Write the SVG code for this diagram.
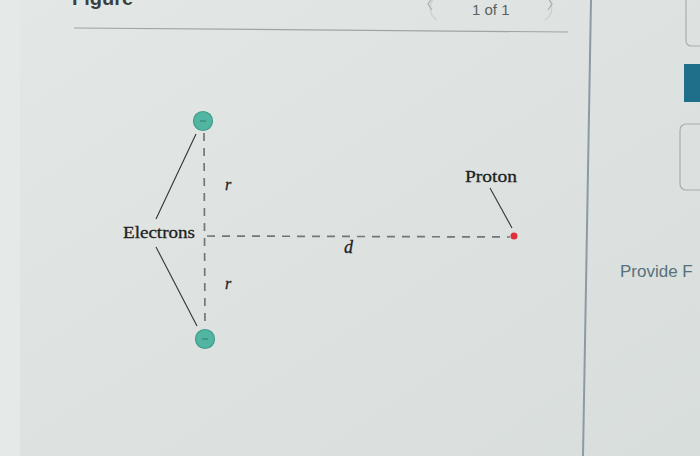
<svg xmlns="http://www.w3.org/2000/svg" width="700" height="456" viewBox="0 0 700 456">
<defs>
<style>
.lbl{font-family:"Liberation Serif","DejaVu Serif",serif;fill:#1e1e1e;stroke:#1e1e1e;stroke-width:0.3}
.ui{font-family:"Liberation Sans",Arial,sans-serif}
.lead{stroke:#333;stroke-width:1.1;fill:none}
.dash{stroke:#6f7876;stroke-width:1.7;stroke-dasharray:8,7;fill:none}
.el{fill:#52b5a2;stroke:#3f9c8b;stroke-width:1.2}
</style>
<linearGradient id="bg" x1="0" y1="0" x2="1" y2="1">
<stop offset="0" stop-color="#e3e7e5"/>
<stop offset="1" stop-color="#d8dedc"/>
</linearGradient>
</defs>
<rect width="700" height="456" fill="url(#bg)"/>
<rect x="0" y="0" width="20" height="456" fill="#e5e9e7"/>
<g id="header">
<text class="ui" x="72" y="5" font-size="20" font-weight="bold" fill="#3a3f3e">Figure</text>
<path d="M437,-4 a14,14 0 0 0 0,24" stroke="#c9cfcd" fill="none" stroke-width="1.2"/>
<path d="M432,-2 l-4,6 l4,6" stroke="#a9b0ae" fill="none" stroke-width="1.2"/>
<text class="ui" x="472" y="15" font-size="15" fill="#5b6260">1 of 1</text>
<path d="M545,-4 a14,14 0 0 1 0,24" stroke="#c9cfcd" fill="none" stroke-width="1.2"/>
<path d="M548,-2 l4,6 l-4,6" stroke="#a9b0ae" fill="none" stroke-width="1.2"/>
<line x1="74" y1="28" x2="568" y2="32" stroke="#9ea6a4" stroke-width="1.2"/>
</g>
<g id="divider">
<line x1="591" y1="0" x2="583" y2="456" stroke="#8d9aa6" stroke-width="2"/>
</g>
<g id="sidebar">
<rect x="686" y="-10" width="30" height="56" rx="5" fill="none" stroke="#a7aeac" stroke-width="1.2"/>
<rect x="684" y="64" width="30" height="38" fill="#1f6f8b"/>
<rect x="680" y="124" width="36" height="66" rx="6" fill="none" stroke="#a7aeac" stroke-width="1.2"/>
<text class="ui" x="620" y="277" font-size="17" fill="#56707c">Provide F</text>
</g>
<g id="connectors">
<line class="dash" x1="204" y1="133" x2="205" y2="328"/>
<line class="dash" x1="207" y1="236" x2="510" y2="237"/>
<line class="lead" x1="196" y1="134" x2="156" y2="219"/>
<line class="lead" x1="156" y1="247" x2="197" y2="326"/>
<line class="lead" x1="490" y1="188" x2="512" y2="228"/>
</g>
<g id="electron-top">
<circle class="el" cx="203" cy="121" r="9.5"/>
<line x1="200" y1="121" x2="206" y2="121" stroke="#2f7d70" stroke-width="1"/>
</g>
<g id="electron-bottom">
<circle class="el" cx="205" cy="339" r="9.5"/>
<line x1="202" y1="339" x2="208" y2="339" stroke="#2f7d70" stroke-width="1"/>
</g>
<g id="proton">
<circle cx="514" cy="236" r="3.5" fill="#e0313a"/>
</g>
<g id="labels">
<text class="lbl" x="123" y="238" font-size="17" textLength="72" lengthAdjust="spacingAndGlyphs">Electrons</text>
<text class="lbl" x="465" y="182" font-size="17" textLength="52" lengthAdjust="spacingAndGlyphs">Proton</text>
<text class="lbl" x="225" y="190" font-size="16" font-style="italic">r</text>
<text class="lbl" x="225" y="289" font-size="16" font-style="italic">r</text>
<text class="lbl" x="344" y="253" font-size="18" font-style="italic">d</text>
</g>
</svg>
